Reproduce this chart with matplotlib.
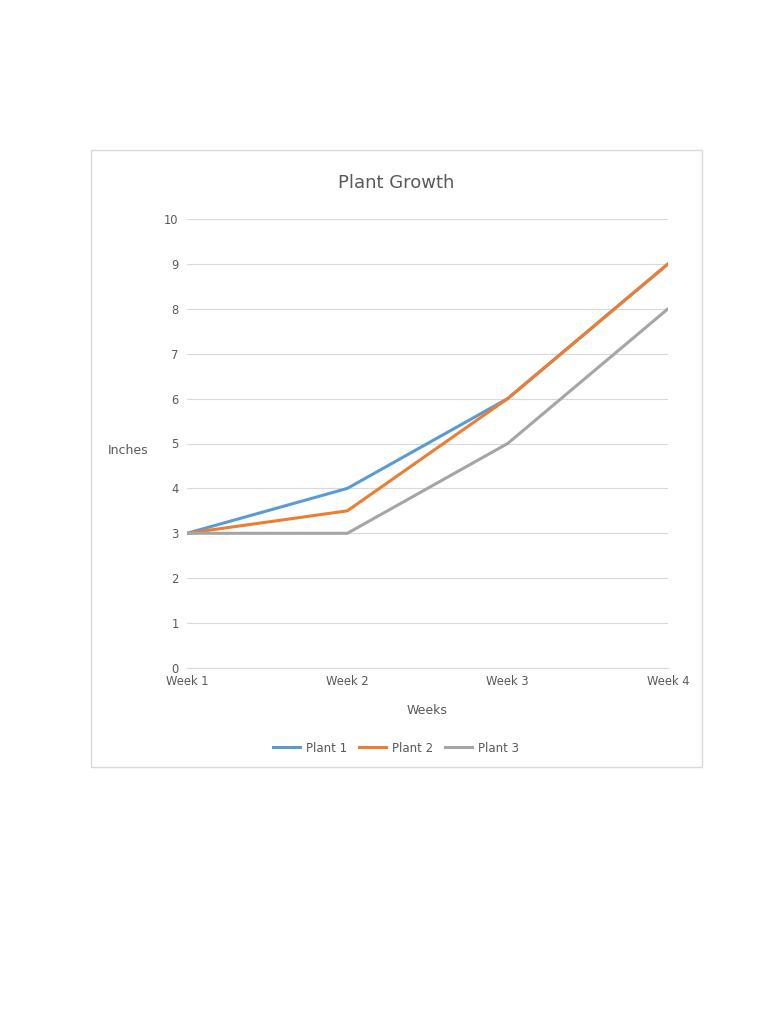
import matplotlib.pyplot as plt
from matplotlib.patches import Rectangle
from matplotlib.lines import Line2D

weeks = ["Week 1", "Week 2", "Week 3", "Week 4"]
plant1 = [3, 4, 6, 9]
plant2 = [3, 3.5, 6, 9]
plant3 = [3, 3, 5, 8]

colors = ["#5B9BD5", "#ED7D31", "#A5A5A5"]
text_color = "#595959"

plt.rcParams["font.family"] = ["DejaVu Sans"]

fig = plt.figure(figsize=(7.68, 10.24), dpi=100)

# chart border
fig.patches.append(Rectangle((91 / 768, 1 - 767 / 1024), 611 / 768, 617 / 1024,
                             transform=fig.transFigure, fill=False,
                             edgecolor="#D9D9D9", linewidth=1))

ax = fig.add_axes([187 / 768, 1 - 668 / 1024, 481 / 768, 449 / 1024])
x = range(len(weeks))
for vals, c, name in zip([plant1, plant2, plant3], colors, ["Plant 1", "Plant 2", "Plant 3"]):
    ax.plot(x, vals, color=c, linewidth=2.2, label=name, solid_capstyle="round")

ax.set_xlim(0, len(weeks) - 1)
ax.set_ylim(0, 10)
ax.set_yticks(range(0, 11))
ax.set_xticks(list(x))
ax.set_xticklabels(weeks)
ax.grid(axis="y", color="#D9D9D9", linewidth=0.8)
ax.set_axisbelow(True)
for s in ["top", "right", "left"]:
    ax.spines[s].set_visible(False)
ax.spines["bottom"].set_color("#D9D9D9")
ax.tick_params(length=0, labelsize=8.3, labelcolor=text_color)
ax.tick_params(axis="y", pad=6)
ax.tick_params(axis="x", pad=5)

fig.text(396 / 768, 1 - 183 / 1024, "Plant Growth", ha="center", va="center",
         fontsize=13, color=text_color)
fig.text(128 / 768, 1 - 450 / 1024, "Inches", ha="center", va="center",
         fontsize=9, color=text_color)
fig.text(427 / 768, 1 - 710 / 1024, "Weeks", ha="center", va="center",
         fontsize=9, color=text_color)

handles = [Line2D([0], [0], color=c, linewidth=2.2) for c in colors]
fig.legend(handles, ["Plant 1", "Plant 2", "Plant 3"], loc="center",
           bbox_to_anchor=(396 / 768, 1 - 748 / 1024), ncol=3, frameon=False,
           fontsize=8.5, labelcolor=text_color, handlelength=2.3,
           columnspacing=1.0, handletextpad=0.5)

fig.savefig("out.png", dpi=100)
